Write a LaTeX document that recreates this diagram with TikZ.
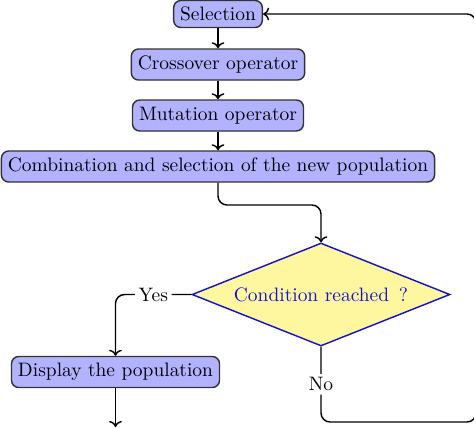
\documentclass[tikz,border=0pt]{standalone}
\usetikzlibrary{shapes.geometric,arrows.meta}
\definecolor{dfill}{RGB}{255,246,160}
\definecolor{dline}{RGB}{20,20,200}
\begin{document}
\begin{tikzpicture}[x=0.555pt,y=-0.555pt,
  every node/.style={font=\fontsize{10.8pt}{13pt}\selectfont},
  box/.style={draw=black!80, fill=blue!30, rounded corners=4pt, thick, minimum height=31*0.555pt, inner xsep=3.6pt, inner ysep=0pt},
  decision/.style={diamond, aspect=2.5, draw=dline, fill=dfill, thick, text=dline, minimum width=258*0.555pt, minimum height=103*0.555pt, inner sep=0pt},
  conn/.style={thick, ->, rounded corners=5pt},
  lbl/.style={fill=white, inner sep=2pt}]
\useasboundingbox (0,0) rectangle (474,427);
\node[box, minimum height=27*0.555pt] (sel) at (218,14) {Selection};
\node[box] (cross) at (218,64.5) {Crossover operator};
\node[box] (mut) at (218,115.5) {Mutation operator};
\node[box] (comb) at (218,166.5) {Combination and selection of the new population};
\node[decision] (dia) at (321,294.5) {Condition reached\enspace ?};
\node[box] (disp) at (115.5,372) {Display the population};
\coordinate (c1) at (218,205);
\coordinate (c2) at (321,422);
\coordinate (c3) at (476,422);
\coordinate (c4) at (115.5,427);
\draw[conn] (sel) -- (cross);
\draw[conn] (cross) -- (mut);
\draw[conn] (mut) -- (comb);
\draw[conn] (comb.south) -- (c1) -| (dia.north);
\draw[conn] (dia.west) -| node[lbl, pos=0.25] {Yes} (disp.north);
\draw[conn] (dia.south) -- node[lbl, pos=0.5] {No} (c2) -- (c3) |- (sel.east);
\draw[conn] (disp.south) -- (c4);
\end{tikzpicture}
\end{document}
